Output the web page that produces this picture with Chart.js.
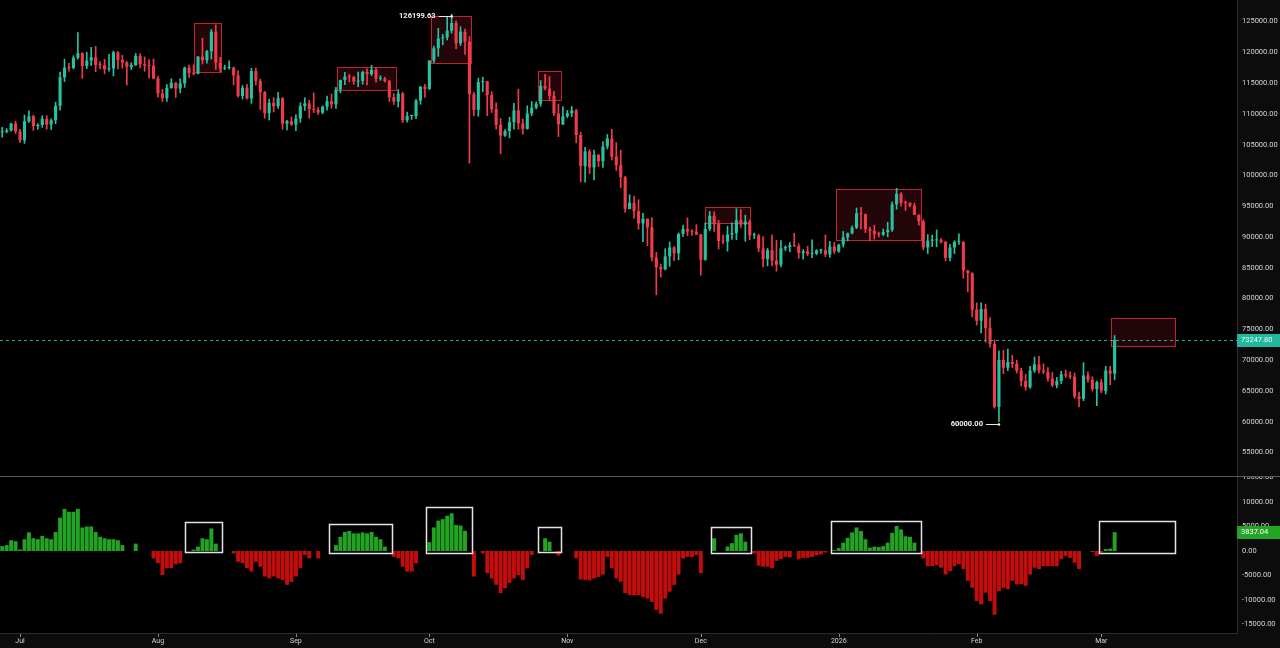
<!DOCTYPE html>
<html>
<head>
<meta charset="utf-8">
<script src="https://cdn.jsdelivr.net/npm/chart.js@4.4.1/dist/chart.umd.min.js"></script>
<style>
  html, body { margin: 0; padding: 0; background: #000; overflow: hidden; }
  #wrap { position: relative; width: 1280px; height: 648px; background: #000; }
  #pricePane { position: absolute; left: 0; top: 0; }
  #oscPane { position: absolute; left: 0; top: 477px; }
  #sep { position: absolute; left: 0; top: 476px; width: 1280px; height: 1px; background: #5a5a5a; }
</style>
</head>
<body>
<div id="wrap">
  <canvas id="pricePane" width="1280" height="476"></canvas>
  <div id="sep"></div>
  <canvas id="oscPane" width="1280" height="171"></canvas>
</div>
<script>
// ============================================================
// DATA  (daily candles, 27 Jun 2025 -> 4 Mar 2026)
// ============================================================
var firstDay = '2025-06-27';
var dayCount = 278;   // runs to end of March, the tail stays empty

var tickDates = ['2025-07-01', '2025-08-01', '2025-09-01', '2025-10-01', '2025-11-01', '2025-12-01', '2026-01-01', '2026-02-01', '2026-03-01'];
var tickNames = ['Jul', 'Aug', 'Sep', 'Oct', 'Nov', 'Dec', '2026', 'Feb', 'Mar'];
var priceTicks = [55000, 60000, 65000, 70000, 75000, 80000, 85000, 90000, 95000, 100000, 105000, 110000, 115000, 120000, 125000];
var oscTicks = [-15000, -10000, -5000, 0, 5000, 10000, 15000];

var opens = [
  107000,107100,107300,108400,107150,105700,108800,109600,108000,108200,
  109200,108250,108950,111300,115950,117500,117450,119100,119850,117750,
  118650,119200,117950,117900,117250,117400,120000,118750,118350,117600,
  117900,119400,118050,117850,117800,115750,113300,112550,114200,115050,
  114100,114950,117500,116650,116500,119300,118700,120150,123350,118300,
  117350,117450,117500,116250,112900,114250,112500,116950,115350,113500,
  110100,111800,111250,112550,108400,108800,108250,109250,111250,111700,
  110750,110650,110200,111150,112050,111550,113950,115500,116050,115950,
  115250,115350,116800,116450,117150,115700,115700,115300,112700,112000,
  113300,108950,109650,109650,112150,114400,114050,118650,120650,122250,
  122400,123500,124750,121450,123350,121700,113200,110650,115150,115300,
  113050,110750,108200,106450,107200,108650,110550,108450,107550,110050,
  111000,111650,114550,114100,112900,110050,108300,109600,110100,110550,
  106550,101500,103900,101300,103350,102300,104700,106000,103050,101650,
  99700,94550,95550,94200,92200,92950,91550,86650,85100,84750,
  86850,88300,87350,90500,91300,90900,90850,90400,86300,91300,
  93450,92100,89350,89250,90400,90650,92700,92000,92500,90250,
  90250,88150,86400,87850,86150,85500,88150,88350,88650,88500,
  87400,87650,87250,87300,87800,87850,87150,88450,87650,88750,
  89950,90600,91500,93850,93700,91250,91000,90500,90400,90800,
  91150,95300,97000,95550,95500,95100,93600,92550,88300,89400,
  89450,89500,89200,86600,88300,89200,89200,84550,84100,78200,
  76400,78300,75200,72650,62400,70050,68750,69700,69400,68300,
  66600,65600,68300,69300,68300,68100,67000,65900,66600,67700,
  67500,67300,64100,63700,67500,66800,65300,66400,65000,68300,
  67800
];
var highs = [
  107800,107600,108500,108800,107500,109800,110500,109800,108400,109700,
  109700,109200,111900,116800,118850,118200,119450,123200,119950,120000,
  120800,120950,118500,118850,119650,120200,120100,119500,118500,118300,
  119800,119800,119250,118800,118900,116100,114000,114750,115700,115100,
  115700,117600,117900,117950,119300,122300,120300,123700,124450,119200,
  117900,118600,117600,117000,114600,114800,117400,117450,115650,113650,
  112400,112650,113500,112650,108950,109500,109900,111800,112600,112200,
  113400,111000,111300,112900,113200,114300,115500,116750,116400,116100,
  116800,116950,117300,117900,117450,116200,115950,115450,113300,113950,
  113500,110300,109800,112350,114450,114800,118650,121000,123900,122900,
  125700,126199.63,125100,124150,123750,122550,113500,115800,115950,115300,
  113600,111800,109250,107450,109450,111700,114000,109150,111300,112000,
  111950,115400,116400,116050,113650,111600,111200,110550,111200,110750,
  107000,104550,104200,104100,103400,105500,106650,107500,105350,104100,
  99850,96850,96650,96050,93850,92950,93150,87500,85600,88100,
  89200,88450,90650,91950,93100,91150,92000,90450,92300,94150,
  94100,92700,90300,91750,92300,94600,94450,93550,92750,90650,
  90450,90050,88150,90350,89450,89400,88550,89100,90600,88900,
  87950,88500,89550,87950,88050,90350,89300,89100,88850,90900,
  90650,91800,94700,94800,93750,91550,91900,90800,91300,92400,
  95700,97900,97200,95850,95600,95500,93650,92800,90400,90300,
  91150,89800,89300,88800,89400,90500,89250,84600,84200,79300,
  79300,79100,76900,73300,71500,71600,71800,70800,70000,68700,
  67700,69000,70500,70600,69400,68800,68000,67200,68200,68400,
  68100,67900,64800,69600,68100,67300,66600,66900,69000,69000,
  74000
];
var lows = [
  106200,106900,107200,106800,105300,105200,108600,107300,107500,107800,
  107500,107450,108400,110600,115250,116950,117300,118900,115750,117350,
  117850,116850,117300,116500,116950,116150,117300,117400,114700,117200,
  117850,117450,116900,115800,115650,112700,112000,112000,114150,112650,
  113400,114300,115900,116300,116500,118100,118250,118900,117200,116800,
  117200,117250,114700,112700,112400,112400,111700,114700,110700,109300,
  109000,110300,110900,107500,107400,108100,107250,108600,110550,109300,
  110200,109900,110000,110600,110900,110900,113400,114750,115200,114800,
  114400,114800,114700,116200,115150,115450,115150,112000,111500,111100,
  108600,108650,109100,109200,111550,112650,113950,118300,119350,121200,
  122000,123100,120600,121100,119650,102000,109700,109600,113600,109700,
  110200,107500,103500,106350,106100,107500,107500,106700,107500,109700,
  110800,111250,113900,112200,109700,106300,108250,109400,109550,105300,
  98950,98900,100300,99250,101450,101300,104300,102500,100800,98000,
  94000,94550,93000,91250,89250,88600,86100,80600,83500,84650,
  85250,86150,86300,90100,90200,90250,90350,83800,86200,91000,
  90900,88050,88900,87700,89600,89550,91550,89300,89550,89750,
  87600,85150,85300,85300,84450,85150,87800,87600,88450,86550,
  86400,86950,86650,87100,87350,86800,86700,87300,87500,88350,
  89350,90500,91350,91300,90700,89350,89650,90000,90200,90050,
  90900,94500,95000,94300,94900,93600,91900,87900,87300,88450,
  88400,89000,86100,86100,87300,88800,83300,81100,77000,75700,
  74400,72900,72100,62200,60000,67800,68300,68800,67900,65800,
  65100,65400,68000,67900,67800,66600,65700,65500,66200,67200,
  67000,63800,62400,63400,66400,65000,62600,64700,64500,66000,
  66800
];
var closes = [
  107100,107300,108400,107150,105700,108800,109600,108000,108200,109200,
  108250,108950,111300,115950,117500,117450,119100,119850,117750,118650,
  119200,117950,117900,117250,117400,120000,118750,118350,117600,117900,
  119400,118050,117850,117800,115750,113300,112550,114200,115050,114100,
  114950,117500,116650,116500,119300,118700,120150,123350,118300,117350,
  117450,117500,116250,112900,114250,112500,116950,115350,113500,110100,
  111800,111250,112550,108400,108800,108250,109250,111250,111700,110750,
  110650,110200,111150,112050,111550,113950,115500,116050,115950,115250,
  115350,116800,116450,117150,115700,115700,115300,112700,112000,113300,
  108950,109650,109650,112150,114400,114050,118650,120650,122250,122400,
  123500,124750,121450,123350,121700,113200,110650,115150,115300,113050,
  110750,108200,106450,107200,108650,110550,108450,107550,110050,111000,
  111650,114550,114100,112900,110050,108300,109600,110100,110550,106550,
  101500,103900,101300,103350,102300,104700,106000,103050,101650,99700,
  94550,95550,94200,92200,92950,91550,86650,85100,84750,86850,
  88300,87350,90500,91300,90900,90850,90400,86300,91300,93450,
  92100,89350,89250,90400,90650,92700,92000,92500,90250,90250,
  88150,86400,87850,86150,85500,88150,88350,88650,88500,87400,
  87650,87250,87300,87800,87850,87150,88450,87650,88750,89950,
  90600,91500,93850,93700,91250,91000,90500,90400,90800,91150,
  95300,97000,95550,95500,95100,93600,92550,88300,89400,89450,
  89500,89200,86600,88300,89200,89200,84550,84100,78200,76400,
  78300,75200,72650,62400,70050,68750,69700,69400,68300,66600,
  65600,68300,69300,68300,68100,67000,65900,66600,67700,67500,
  67300,64100,63700,67500,66800,65300,66400,65000,68300,67800,
  73247.80
];

// oscillator histogram, one value per candle
var oscValues = [
  1000,1200,2200,2000,300,2400,3800,2600,2400,3100,
  2600,2400,3900,6800,8600,8000,8000,8600,4800,5000,
  5000,3900,2900,2600,2400,2400,2200,1200,0,0,
  1500,0,0,0,-1500,-2500,-4900,-3500,-3500,-2700,
  -2500,0,0,300,900,2600,2400,4600,1500,0,
  0,0,-500,-2200,-2500,-3500,-4200,-2200,-3200,-5200,
  -5600,-5200,-5600,-5900,-6900,-6300,-5200,-3500,-800,-1500,
  0,-1500,0,0,0,1200,2900,3900,4100,3600,
  3600,3800,3600,3900,2900,2400,900,0,-1200,-1500,
  -3200,-4200,-4200,-2500,0,0,1800,4800,6200,6500,
  7200,7700,5300,5200,4100,0,-5200,0,-500,-4500,
  -5600,-6900,-8600,-7600,-6500,-5600,-4900,-5900,-3500,-800,
  0,0,2600,1900,0,-900,0,0,0,-1500,
  -5800,-5900,-6000,-5600,-5300,-4800,-1200,-3500,-5600,-6300,
  -8600,-9000,-9000,-9000,-9400,-9700,-10400,-12000,-12800,-9700,
  -8300,-6900,-4800,-1500,-1200,-1200,-800,-4500,0,0,
  2600,0,0,900,1600,3300,3600,1900,0,-500,
  -3000,-3200,-3200,-3500,-2000,-1700,-1200,-1300,0,-1700,
  -1400,-1400,-1200,-900,-700,-300,0,200,600,1700,
  2700,3800,4800,4100,2400,700,900,800,1000,1700,
  3700,5100,4400,3000,2900,1700,0,-1500,-3100,-3100,
  -2900,-3400,-4800,-4100,-3100,-2700,-3700,-6100,-7500,-10200,
  -10900,-8500,-10200,-13000,-8200,-7500,-7800,-6100,-6800,-6800,
  -7100,-4800,-3400,-3700,-3100,-3100,-3100,-3100,-1700,-1000,
  -1400,-2400,-3700,0,0,-200,-1000,-300,400,500,
  3837.04
];

// marked zones: bar index from / to, value top / bottom
var priceBoxFrom = [43.1, 75.2, 96.3, 120.3, 158.0, 187.3, 249.2];
var priceBoxTo   = [49.1, 88.4, 105.4, 125.5, 168.2, 206.5, 263.6];
var priceBoxTop  = [124760, 117610, 125890, 116960, 94870, 97750, 76840];
var priceBoxBot  = [116800, 113870, 118310, 112250, 92270, 89510, 72290];

var oscBoxFrom = [41.0, 73.4, 95.2, 120.3, 159.3, 186.3, 246.4];
var oscBoxTo   = [49.4, 87.5, 105.5, 125.4, 168.4, 206.5, 263.5];
var oscBoxTop  = [5900, 5500, 9000, 4800, 4800, 6100, 6100];
var oscBoxBot  = [-200, -400, -300, -300, -450, -450, -450];

// ============================================================
// build
// ============================================================
var UP = '#26c2a1', DOWN = '#ef3b4a';
var OSC_UP = '#22a422', OSC_DOWN = '#c30d0d';
var TEXT = '#d1d4dc', AXIS_BG = '#0c0c0c', AXIS_LINE = '#2c2c2c';
var FONT = 'Roboto';

var dates = [];
var d0 = Date.parse(firstDay + 'T00:00:00Z');
for (var i = 0; i < dayCount; i++) dates.push(new Date(d0 + i * 86400000).toISOString().slice(0, 10));

var candleColors = closes.map(function (c, i) { return c >= opens[i] ? UP : DOWN; });
var wickData = lows.map(function (l, i) { return [l, highs[i]]; });
var bodyData = opens.map(function (o, i) { return [o, closes[i]]; });
var oscColors = oscValues.map(function (v) { return v >= 0 ? OSC_UP : OSC_DOWN; });

function fixAxisWidth(s) { s.width = 43; s.paddingTop = 0; s.paddingBottom = 0; }

var paneBg = {
  id: 'paneBg',
  beforeDraw: function (chart) {
    var c = chart.ctx, a = chart.chartArea;
    c.save();
    c.fillStyle = '#000';
    c.fillRect(0, 0, chart.width, chart.height);
    c.fillStyle = AXIS_BG;
    c.fillRect(a.right, 0, chart.width - a.right, chart.height);
    if (chart.scales.x.options.display) c.fillRect(0, a.bottom, chart.width, chart.height - a.bottom);
    c.restore();
  }
};

function zones(from, to, top, bot, fill, stroke, lw) {
  return function (chart) {
    var c = chart.ctx, x = chart.scales.x, y = chart.scales.y;
    c.save();
    c.lineWidth = lw;
    for (var k = 0; k < from.length; k++) {
      var x0 = x.getPixelForValue(from[k]), x1 = x.getPixelForValue(to[k]);
      var y0 = y.getPixelForValue(top[k]), y1 = y.getPixelForValue(bot[k]);
      if (fill) { c.fillStyle = fill; c.fillRect(x0, y0, x1 - x0, y1 - y0); }
      c.strokeStyle = stroke;
      c.strokeRect(Math.round(x0) + 0.5, Math.round(y0) + 0.5, Math.round(x1 - x0), Math.round(y1 - y0));
    }
    c.restore();
  };
}

function axisTag(chart, value, bg, fg) {
  var c = chart.ctx, a = chart.chartArea, py = chart.scales.y.getPixelForValue(value);
  c.save();
  c.fillStyle = bg;
  c.fillRect(a.right, Math.round(py) - 6, chart.width - a.right, 13);
  c.fillStyle = fg;
  c.font = '7.5px ' + FONT;
  c.textBaseline = 'middle';
  c.fillText(value.toFixed(2), a.right + 4, Math.round(py) + 0.5);
  c.restore();
}

var priceDecor = {
  id: 'priceDecor',
  beforeDatasetsDraw: zones(priceBoxFrom, priceBoxTo, priceBoxTop, priceBoxBot, 'rgba(220,40,55,0.16)', 'rgba(200,38,52,0.95)', 1),
  afterDatasetsDraw: function (chart) {
    var c = chart.ctx, a = chart.chartArea, x = chart.scales.x, y = chart.scales.y;
    var last = closes[closes.length - 1];
    var py = Math.round(y.getPixelForValue(last)) + 0.5;
    c.save();
    c.strokeStyle = '#1fae93';
    c.lineWidth = 1;
    c.setLineDash([3, 3]);
    c.beginPath(); c.moveTo(a.left, py); c.lineTo(a.right, py); c.stroke();
    c.setLineDash([]);

    // highest high / lowest low notes
    var hi = 0, lo = 0;
    for (var i = 1; i < highs.length; i++) {
      if (highs[i] > highs[hi]) hi = i;
      if (lows[i] < lows[lo]) lo = i;
    }
    c.font = 'bold 7.5px ' + FONT;
    c.fillStyle = '#f2f2f2';
    c.strokeStyle = '#e6e6e6';
    c.textAlign = 'right';
    c.textBaseline = 'middle';
    [[hi, highs[hi]], [lo, lows[lo]]].forEach(function (p) {
      var px = x.getPixelForValue(p[0]), yy = Math.round(y.getPixelForValue(p[1])) + 2.5;
      c.beginPath(); c.moveTo(px - 13, yy); c.lineTo(px, yy); c.stroke();
      c.beginPath(); c.arc(px, yy, 1.3, 0, Math.PI * 2); c.fill();
      c.fillText(p[1].toFixed(2), px - 16, yy);
    });
    c.restore();
  },
  afterDraw: function (chart) { axisTag(chart, closes[closes.length - 1], '#22b89c', '#e9fffa'); }
};

var oscDecor = {
  id: 'oscDecor',
  afterDatasetsDraw: zones(oscBoxFrom, oscBoxTo, oscBoxTop, oscBoxBot, null, '#e4e4e4', 1.5),
  afterDraw: function (chart) {
    // month tick marks on the time axis
    var c = chart.ctx, a = chart.chartArea, x = chart.scales.x;
    c.save();
    c.strokeStyle = '#8a8a8a';
    c.lineWidth = 1;
    tickDates.forEach(function (d) {
      var px = Math.round(x.getPixelForValue(dates.indexOf(d))) + 0.5;
      c.beginPath(); c.moveTo(px, a.bottom + 1); c.lineTo(px, a.bottom + 4); c.stroke();
    });
    c.restore();
    axisTag(chart, oscValues[oscValues.length - 1], '#25a325', '#ffffff');
  }
};

function yTicks() {
  return { color: TEXT, padding: 5, font: { family: FONT, size: 7.5 }, callback: function (v) { return v.toFixed(2); } };
}
function setTicks(list) { return function (s) { s.ticks = list.map(function (v) { return { value: v }; }); }; }
function monthLabel(v, i) { var k = tickDates.indexOf(dates[i]); return k >= 0 ? tickNames[k] : ''; }

// 1) price pane
new Chart(document.getElementById('pricePane'), {
  type: 'bar',
  data: {
    labels: dates,
    datasets: [
      { label: 'wick', data: wickData, backgroundColor: candleColors, barThickness: 1, grouped: false, order: 2 },
      { label: 'body', data: bodyData, backgroundColor: candleColors, barPercentage: 0.7, categoryPercentage: 1, minBarLength: 1, grouped: false, order: 1 }
    ]
  },
  options: {
    responsive: false, animation: false, devicePixelRatio: 1,
    layout: { padding: 0 },
    plugins: { legend: { display: false }, tooltip: { enabled: false } },
    scales: {
      x: { display: false, offset: true, grid: { display: false } },
      y: {
        position: 'right', min: 51180, max: 128490,
        grid: { display: false, drawTicks: false },
        border: { display: true, color: AXIS_LINE },
        ticks: yTicks(),
        afterBuildTicks: setTicks(priceTicks),
        afterFit: fixAxisWidth
      }
    }
  },
  plugins: [paneBg, priceDecor]
});

// 2) oscillator pane + time axis
new Chart(document.getElementById('oscPane'), {
  type: 'bar',
  data: {
    labels: dates,
    datasets: [{ label: 'osc', data: oscValues, backgroundColor: oscColors, barPercentage: 0.88, categoryPercentage: 1 }]
  },
  options: {
    responsive: false, animation: false, devicePixelRatio: 1,
    layout: { padding: 0 },
    plugins: { legend: { display: false }, tooltip: { enabled: false } },
    scales: {
      x: {
        offset: true,
        grid: { display: false, drawTicks: false },
        border: { display: true, color: AXIS_LINE },
        ticks: { autoSkip: false, maxRotation: 0, padding: 4, color: TEXT, font: { family: FONT, size: 7 }, callback: monthLabel },
        afterFit: function (s) { s.height = 15; s.paddingLeft = 0; s.paddingRight = 0; }
      },
      y: {
        position: 'right', min: -16730, max: 15100,
        grid: { display: false, drawTicks: false },
        border: { display: true, color: AXIS_LINE },
        ticks: yTicks(),
        afterBuildTicks: setTicks(oscTicks),
        afterFit: fixAxisWidth
      }
    }
  },
  plugins: [paneBg, oscDecor]
});
</script>
</body>
</html>
